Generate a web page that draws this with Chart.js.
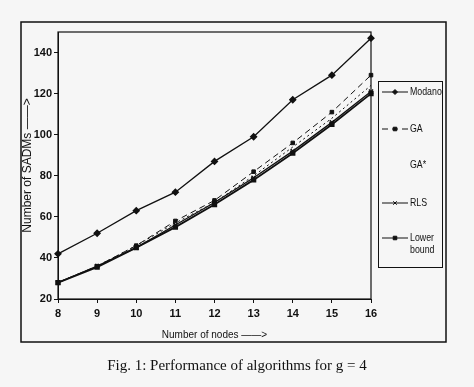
<!DOCTYPE html>
<html>
<head>
<meta charset="utf-8">
<script src="https://cdn.jsdelivr.net/npm/chart.js@4.4.1/dist/chart.umd.min.js"></script>
<style>
  body { margin: 0; background: #f6f6f6; }
  #wrap { position: relative; width: 474px; height: 387px; }
  #caption {
    position: absolute; left: 0; width: 474px; top: 357px;
    text-align: center; font: 15px "Liberation Serif", "Times New Roman", serif; color: #111;
  }
</style>
</head>
<body>
<div id="wrap">
  <canvas id="myChart" width="474" height="387"></canvas>
  <div id="caption">Fig. 1: Performance of algorithms for g = 4</div>
</div>
<script>
const nodes = [8, 9, 10, 11, 12, 13, 14, 15, 16];
const modano = [42, 52, 63, 72, 87, 99, 117, 129, 147];
const ga = [28, 36, 46, 58, 68, 82, 96, 111, 129];
const gaStar = [28, 36, 46, 57, 67, 80, 94, 108, 124];
const rls = [28, 36, 45, 56, 67, 79, 92, 106, 121];
const lowerBound = [28, 35.5, 45, 55, 66, 78, 91, 105, 120];
const yTicks = [20, 40, 60, 80, 100, 120, 140];

const ink = "#111";
const sans = "'Liberation Sans', Arial, sans-serif";

// squeezed text, the scan uses a condensed face
function narrowText(ctx, text, x, y, squeeze) {
  ctx.save();
  ctx.translate(x, y);
  ctx.scale(squeeze, 1);
  ctx.fillText(text, 0, 0);
  ctx.restore();
}

// frame, plot box and the boxed legend on the right
const framePlugin = {
  id: "frame",
  beforeDraw(chart) {
    const ctx = chart.ctx;
    ctx.save();
    ctx.strokeStyle = ink;
    ctx.lineWidth = 1.5;
    ctx.strokeRect(21, 22, 425, 320);
    ctx.restore();
  },
  afterDraw(chart) {
    const ctx = chart.ctx;
    const a = chart.chartArea;
    ctx.save();
    ctx.strokeStyle = ink;
    ctx.lineWidth = 1.2;
    ctx.strokeRect(a.left, a.top, a.right - a.left, a.bottom - a.top);

    // legend
    ctx.lineWidth = 1;
    ctx.strokeRect(378.5, 81.5, 64, 186);
    const rows = [92, 129, 165, 203, 238];
    ctx.font = "11px " + sans;
    ctx.fillStyle = ink;
    ctx.textBaseline = "middle";
    chart.data.datasets.forEach((ds, i) => {
      const y = rows[i];
      if (ds.legendSample !== false) {
        ctx.save();
        ctx.strokeStyle = ink;
        ctx.lineWidth = 1;
        ctx.setLineDash(ds.borderDash || []);
        ctx.beginPath();
        ctx.moveTo(382, y);
        ctx.lineTo(408, y);
        ctx.stroke();
        ctx.restore();
        Chart.helpers.drawPoint(ctx, {
          pointStyle: ds.pointStyle, radius: 2.5, borderWidth: 1
        }, 395, y);
      }
      if (ds.label === "Lower bound") {
        narrowText(ctx, "Lower", 410, y, 0.8);
        narrowText(ctx, "bound", 410, y + 12, 0.8);
      } else {
        narrowText(ctx, ds.label, 410, y, 0.8);
      }
    });
    ctx.restore();
  }
};

const line = (label, data, extra) => Object.assign({
  label: label,
  data: data,
  borderColor: ink,
  backgroundColor: ink,
  pointBackgroundColor: ink,
  pointBorderColor: ink,
  borderWidth: 1.3,
  pointRadius: 2.5,
  tension: 0
}, extra);

new Chart(document.getElementById("myChart").getContext("2d"), {
  type: "line",
  data: {
    labels: nodes,
    datasets: [
      line("Modano", modano, { pointStyle: "rectRot", pointRadius: 3 }),
      line("GA", ga, { pointStyle: "rect", borderDash: [6, 4], borderWidth: 1 }),
      line("GA*", gaStar, { pointStyle: false, borderDash: [2, 3], borderWidth: 1, legendSample: false }),
      line("RLS", rls, { pointStyle: "crossRot", pointRadius: 3 }),
      line("Lower bound", lowerBound, { pointStyle: "rect", borderWidth: 1.8 })
    ]
  },
  options: {
    responsive: false,
    animation: false,
    layout: { padding: { left: 20, right: 103, top: 32, bottom: 46 } },
    plugins: {
      legend: { display: false },
      tooltip: { enabled: false }
    },
    scales: {
      x: {
        grid: { drawOnChartArea: false, color: ink, tickLength: 4 },
        border: { color: ink },
        ticks: { color: ink, font: { family: sans, size: 11, weight: "bold" }, padding: 4, maxRotation: 0 },
        title: {
          display: true, text: "Number of nodes ——>", color: ink,
          font: { family: sans, size: 10 }, padding: { top: 2, bottom: 0 }
        },
        afterFit(scale) { scale.height = 42; }
      },
      y: {
        min: 20,
        max: 150,
        grid: { drawOnChartArea: false, color: ink, tickLength: 4 },
        border: { color: ink },
        ticks: { color: ink, stepSize: 20, font: { family: sans, size: 11, weight: "bold" }, padding: 2 },
        afterBuildTicks(scale) {
          scale.ticks = yTicks.map(v => ({ value: v }));
        },
        title: {
          display: true, text: "Number of SADMs ——>", color: ink,
          font: { family: sans, size: 12 }, padding: { top: 0, bottom: 2 }
        },
        afterFit(scale) { scale.width = 38; }
      }
    }
  },
  plugins: [framePlugin]
});
</script>
</body>
</html>
